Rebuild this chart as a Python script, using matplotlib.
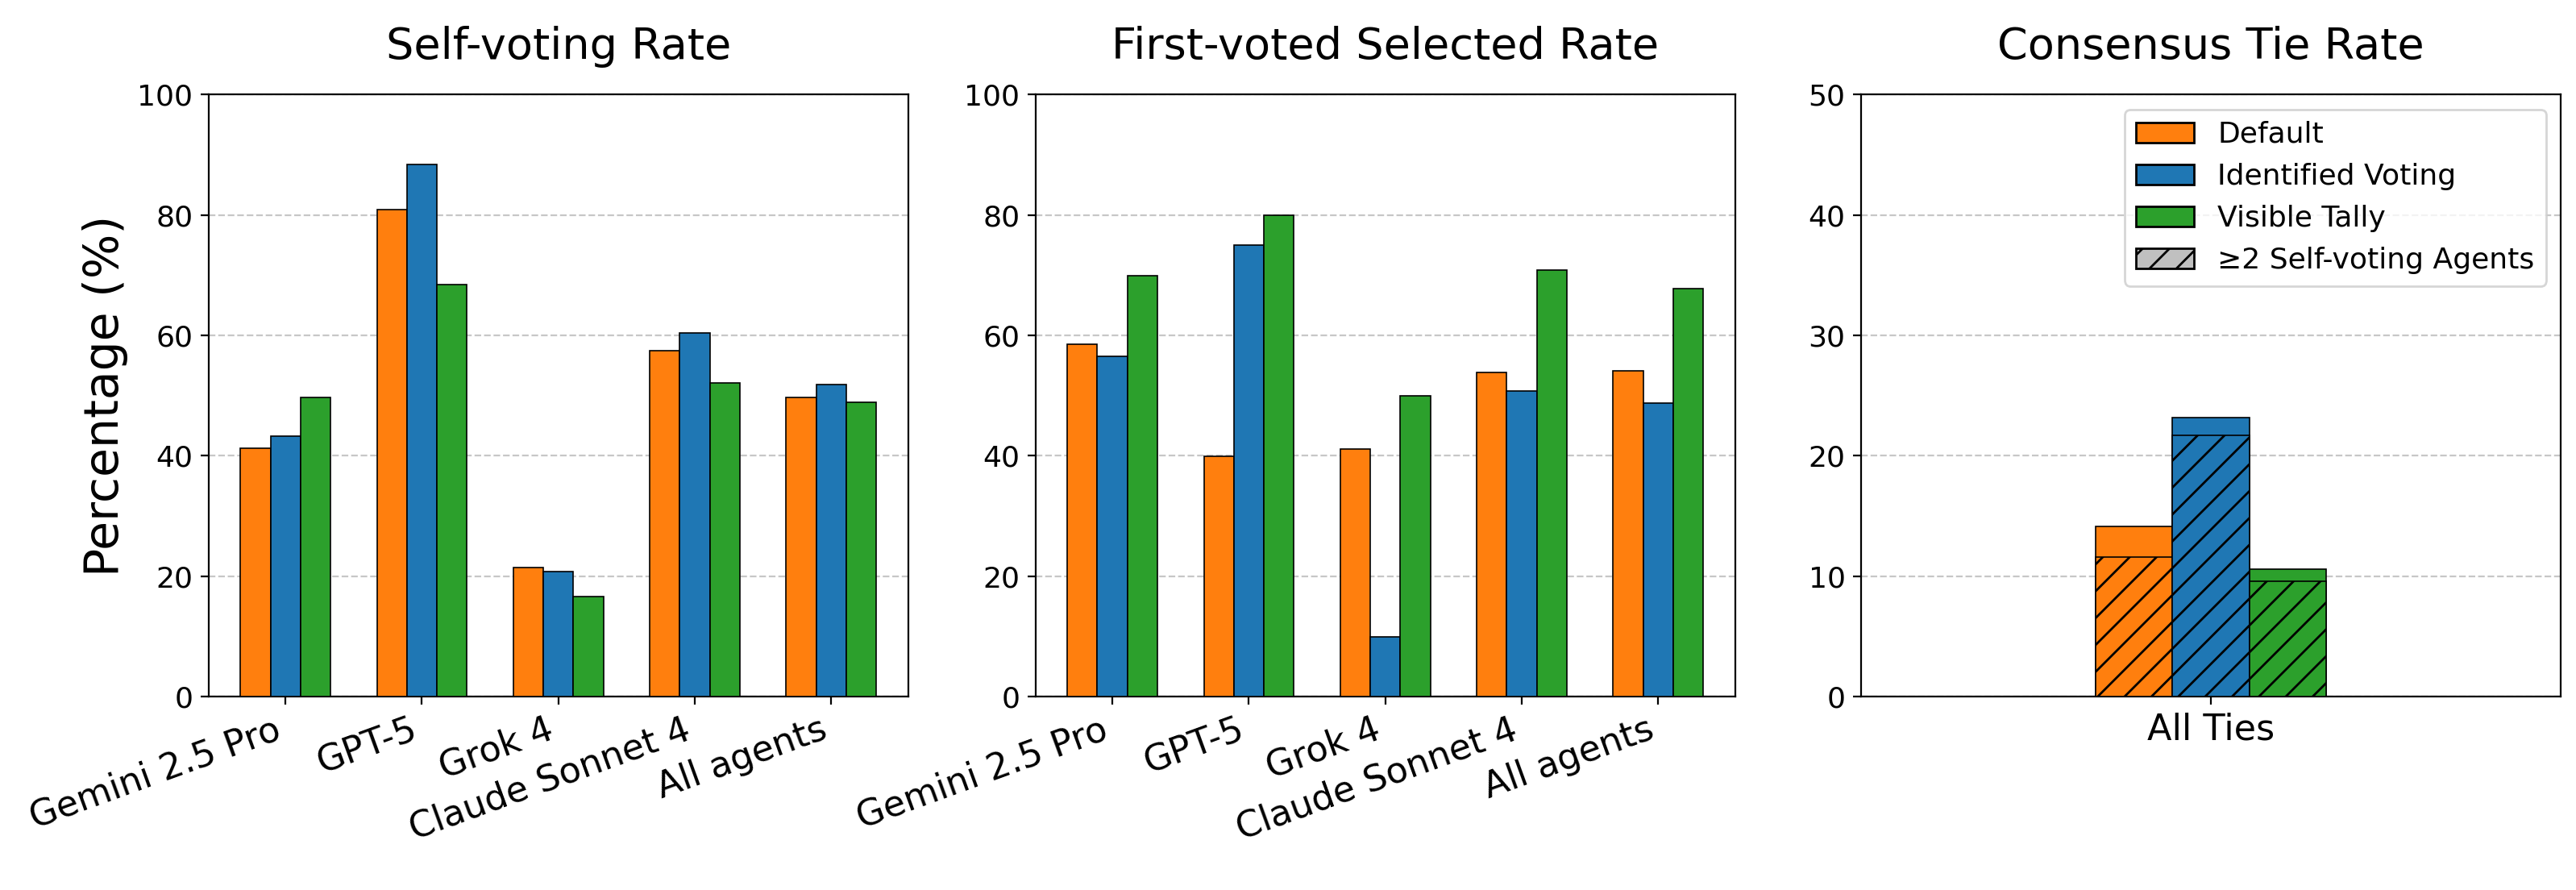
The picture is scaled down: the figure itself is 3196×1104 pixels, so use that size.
import numpy as np
import matplotlib
matplotlib.use('Agg')
import matplotlib.pyplot as plt
from matplotlib.patches import Patch

# data
agents = ['Gemini 2.5 Pro', 'GPT-5', 'Grok 4', 'Claude Sonnet 4', 'All agents']
conditions = ['Default', 'Identified Voting', 'Visible Tally']
colors = ['#ff7f0e', '#1f77b4', '#2ca02c']

self_default = [41.3, 80.9, 21.4, 57.4, 49.7]
self_identified = [43.3, 88.4, 20.8, 60.4, 51.8]
self_tally = [49.7, 68.4, 16.6, 52.1, 48.9]

first_default = [58.6, 39.9, 41.1, 53.8, 54.1]
first_identified = [56.5, 75.0, 9.9, 50.8, 48.7]
first_tally = [69.9, 80.0, 49.9, 70.8, 67.8]

tie_total = [14.1, 23.2, 10.6]
tie_multi_self = [11.6, 21.7, 9.6]

width = 0.22

fig, axes = plt.subplots(1, 3, figsize=(15.98, 5.52), dpi=200)
x = np.arange(len(agents))

panels = [
    ('Self-voting Rate', [self_default, self_identified, self_tally]),
    ('First-voted Selected Rate', [first_default, first_identified, first_tally]),
]
for ax, (title, series) in zip(axes[:2], panels):
    for i, vals in enumerate(series):
        ax.bar(x + (i - 1) * width, vals, width, color=colors[i],
               edgecolor='black', linewidth=0.6, zorder=3)
    ax.set_ylim(0, 100)
    ax.set_xticks(x)
    ax.set_xticklabels(agents, rotation=20, ha='right', fontsize=16)
    ax.tick_params(axis='y', labelsize=13)
    ax.set_title(title, fontsize=19.5, pad=16)
    ax.grid(axis='y', linestyle='--', alpha=0.7, zorder=0)
axes[0].set_ylabel('Percentage (%)', fontsize=21)

# tie rate panel
ax = axes[2]
for i in range(3):
    xp = (i - 1) * width
    ax.bar(xp, tie_total[i], width, color=colors[i], edgecolor='black',
           linewidth=0.6, zorder=3)
    ax.bar(xp, tie_multi_self[i], width, color=colors[i], edgecolor='black',
           linewidth=0.6, hatch='//', zorder=4)
ax.set_xlim(-1, 1)
ax.set_ylim(0, 50)
ax.set_xticks([0])
ax.set_xticklabels(['All Ties'], fontsize=16)
ax.tick_params(axis='y', labelsize=13)
ax.set_title('Consensus Tie Rate', fontsize=19.5, pad=16)
ax.grid(axis='y', linestyle='--', alpha=0.7, zorder=0)

handles = [Patch(facecolor=c, edgecolor='black', label=l) for c, l in zip(colors, conditions)]
handles.append(Patch(facecolor='#c0c0c0', edgecolor='black', hatch='//',
                     label='≥2 Self-voting Agents'))
ax.legend(handles=handles, loc='upper right', fontsize=13)

axes[0].set_position([0.081, 0.2174, 0.2715, 0.6762])
axes[1].set_position([0.402, 0.2174, 0.2715, 0.6762])
axes[2].set_position([0.7225, 0.2174, 0.2715, 0.6762])

fig.savefig('out.png', dpi=200)
